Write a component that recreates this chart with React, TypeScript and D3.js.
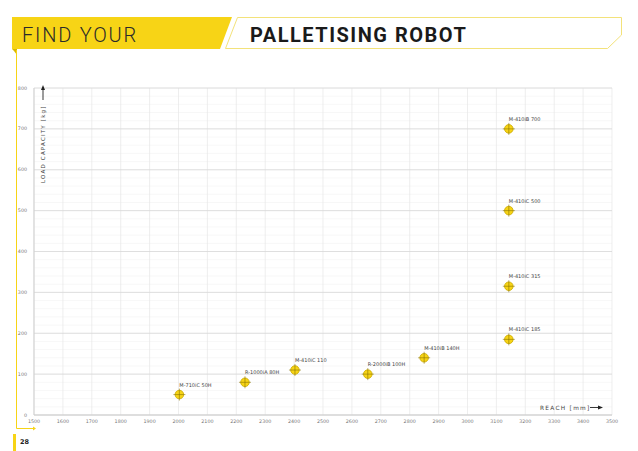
import React from "react";
import * as d3 from "d3";

const robotNames = [
  "M-710iC 50H",
  "R-1000iA 80H",
  "M-410iC 110",
  "R-2000iB 100H",
  "M-410iB 140H",
  "M-410iC 185",
  "M-410iC 315",
  "M-410iC 500",
  "M-410iB 700",
];
const reachValues = [2003, 2230, 2403, 2655, 2850, 3143, 3143, 3143, 3143];
const loadValues = [50, 80, 110, 100, 140, 185, 315, 500, 700];
const xTicks = d3.range(1500, 3501, 100);
const yTicks = d3.range(0, 801, 100);
const yMinorTicks = d3.range(0, 801, 20);

const YELLOW = "#f7d416";

export default function App() {
  const W = 638;
  const H = 451;
  const x = d3.scaleLinear().domain([1500, 3500]).range([34, 612]);
  const y = d3.scaleLinear().domain([0, 800]).range([415, 88]);
  const font = "'DejaVu Sans', sans-serif";

  return (
    <svg width={W} height={H} style={{ position: "absolute", left: 0, top: 0, background: "#fff" }}>
      <rect width={W} height={H} fill="#fff" />
      {/* header */}
      <path d="M12,17 L232,17 L220,49 L12,49 Z" fill={YELLOW} />
      <path d="M12,49 L17,49 L17,55 L14,51 Z" fill="#d9b800" />
      <text x={22} y={42} fontFamily="Roboto, 'DejaVu Sans', sans-serif" fontSize={20} fill="#2a2a2a" letterSpacing={1.8} fontWeight={300}>
        FIND YOUR
      </text>
      <path d="M237.5,17.5 L621.5,17.5 L621.5,35 L607.5,48.5 L225.5,48.5 Z" fill="#fff" stroke="#f3e27a" strokeWidth={1} />
      <text x={250} y={42} fontFamily="Roboto, 'DejaVu Sans', sans-serif" fontSize={20} fill="#1a1a1a" fontWeight={700} letterSpacing={1.5}>
        PALLETISING ROBOT
      </text>

      {/* left yellow guide line */}
      <path d="M16.5,50 L16.5,428.5 L33,428.5" fill="none" stroke={YELLOW} strokeWidth={1} />
      <path d="M33,426.5 L36,428.5 L33,430.5 Z" fill={YELLOW} />

      {/* page number */}
      <rect x={13} y={434} width={3} height={17} fill={YELLOW} />
      <text x={20} y={444} fontFamily={font} fontSize={6.5} fontWeight={700} fill="#222">28</text>

      {/* grid minor */}
      {yMinorTicks.map((t) => (
        <line key={"ym" + t} x1={x(1500)} x2={x(3500)} y1={y(t)} y2={y(t)} stroke="#f1f1f1" strokeWidth={0.6} />
      ))}
      {xTicks.map((t) => (
        <line key={"xg" + t} x1={x(t)} x2={x(t)} y1={y(0)} y2={y(800)} stroke="#e6e6e6" strokeWidth={0.7} />
      ))}
      {yTicks.map((t) => (
        <line key={"yg" + t} x1={x(1500)} x2={x(3500)} y1={y(t)} y2={y(t)} stroke="#d8d8d8" strokeWidth={0.8} />
      ))}
      <line x1={x(1500)} x2={x(1500)} y1={y(0)} y2={y(800)} stroke="#cfcfcf" strokeWidth={1} />
      <line x1={x(1500)} x2={x(3500)} y1={y(0)} y2={y(0)} stroke="#cfcfcf" strokeWidth={1} />

      {/* tick labels */}
      {xTicks.map((t) => (
        <text key={"xl" + t} x={x(t)} y={423} textAnchor="middle" fontFamily={font} fontSize={4.8} fill="#777">
          {t}
        </text>
      ))}
      {yTicks.map((t) => (
        <text key={"yl" + t} x={27} y={y(t) + 1.6} textAnchor="end" fontFamily={font} fontSize={4.8} fill="#777">
          {t}
        </text>
      ))}

      {/* axis titles */}
      <g transform="translate(45,183) rotate(-90)">
        <text x={0} y={0} fontFamily={font} fontSize={5.5} fill="#444" letterSpacing={1.2}>
          LOAD CAPACITY [kg]
        </text>
        <line x1={83} x2={94} y1={-2} y2={-2} stroke="#222" strokeWidth={0.9} />
        <path d="M93,-4 L98,-2 L93,0 Z" fill="#222" />
      </g>
      <text x={540} y={410} fontFamily={font} fontSize={5.8} fill="#444" letterSpacing={1.3}>
        REACH [mm]
      </text>
      <line x1={590} x2={600} y1={407.5} y2={407.5} stroke="#222" strokeWidth={0.9} />
      <path d="M598,405.5 L603,407.5 L598,409.5 Z" fill="#222" />

      {/* points */}
      {robotNames.map((n, i) => {
        const cx = x(reachValues[i]);
        const cy = y(loadValues[i]);
        return (
          <g key={n}>
            <circle cx={cx} cy={cy} r={4.3} fill={YELLOW} stroke="#c9a800" strokeWidth={0.8} />
            <line x1={cx - 6} x2={cx + 6} y1={cy} y2={cy} stroke="#8a7300" strokeWidth={0.6} />
            <line x1={cx} x2={cx} y1={cy - 6} y2={cy + 6} stroke="#8a7300" strokeWidth={0.6} />
            <text x={cx} y={cy - 8} fontFamily={font} fontSize={5} fill="#444">
              {n}
            </text>
          </g>
        );
      })}
    </svg>
  );
}
